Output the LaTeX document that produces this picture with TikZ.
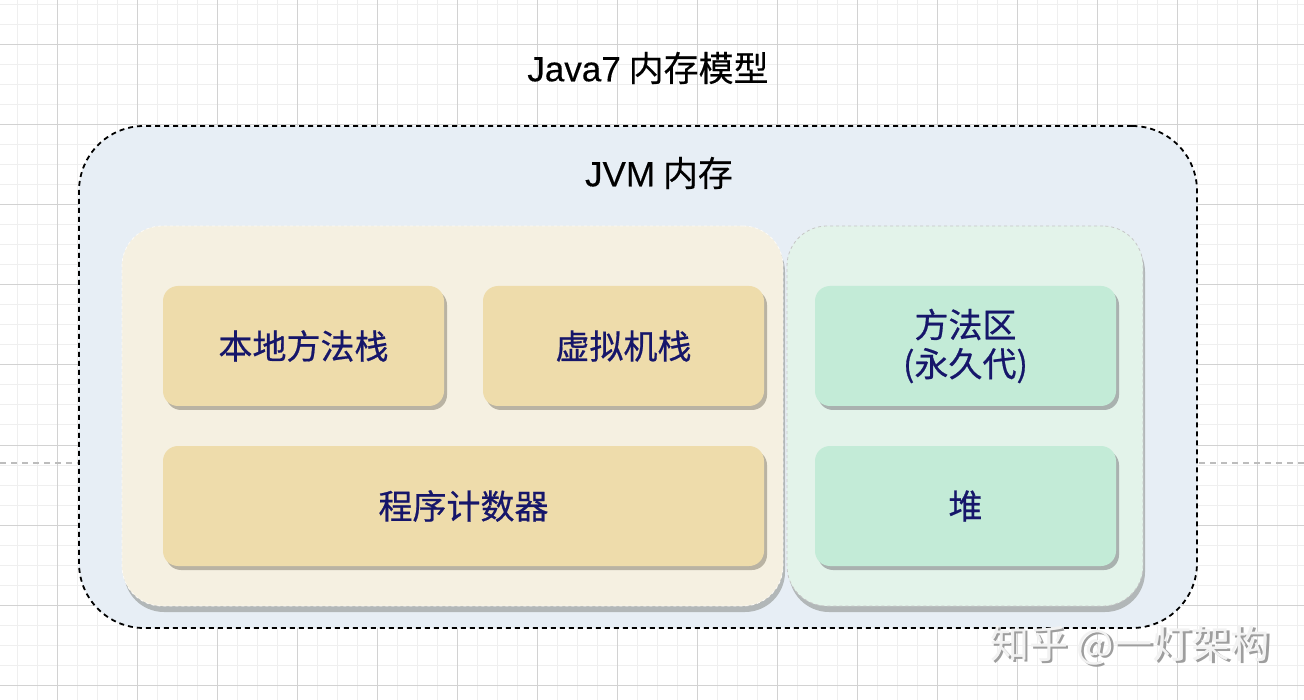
\documentclass[tikz,border=0pt]{standalone}
\usepackage{fontspec}
\setmainfont{Noto Sans CJK SC}
\newfontfamily\boxfont{Noto Sans CJK SC}[FakeBold=0.6]
\newfontfamily\titlefont{Noto Sans CJK SC}[FakeBold=0.3]
\newfontfamily\latinfont{Liberation Sans}[FakeBold=0.3]
\usetikzlibrary{shadows}
\definecolor{gridminor}{HTML}{EFEFEF}
\definecolor{gridmajor}{HTML}{D2D2D2}
\definecolor{outerfill}{HTML}{E7EEF5}
\definecolor{leftfill}{HTML}{F5F0E1}
\definecolor{leftbox}{HTML}{EEDCAB}
\definecolor{rightfill}{HTML}{E3F3EA}
\definecolor{rightbox}{HTML}{C3EBD7}
\definecolor{navy}{HTML}{16166A}
\definecolor{shadowA}{HTML}{B9B3A3}
\definecolor{shadowB}{HTML}{A9B1AF}
\definecolor{shadowC}{HTML}{B2B7B8}
\definecolor{wmfill}{HTML}{F2F2F2}
\definecolor{wmshadow}{HTML}{9E9E9E}
\tikzset{
  box/.style={rectangle, rounded corners=15pt, inner sep=0pt, outer sep=0pt,
    text=navy, align=center, font=\boxfont\fontsize{34}{39}\selectfont},
  lbox/.style={box, fill=leftbox,
    drop shadow={shadow xshift=3pt, shadow yshift=-4pt, fill=shadowA, opacity=1}},
  rbox/.style={box, fill=rightbox,
    drop shadow={shadow xshift=3pt, shadow yshift=-4pt, fill=shadowB, opacity=1}},
  container/.style={rectangle, rounded corners=40pt, inner sep=0pt, outer sep=0pt,
    minimum height=380pt, dashed, line width=0.8pt,
    drop shadow={shadow xshift=2pt, shadow yshift=-6pt, fill=shadowC, opacity=1}},
  titletext/.style={font=\titlefont\fontsize{35}{38}\selectfont, text=black, inner sep=0pt},
}
\begin{document}
\begin{tikzpicture}[x=1pt, y=-1pt]
\useasboundingbox (0,0) rectangle (1304,700);
\fill[white] (0,0) rectangle (1304,700);
% grid
\foreach \gx in {17,37,...,1304} \draw[gridminor, line width=1pt] (\gx,0) -- (\gx,700);
\foreach \gy in {5,25,...,700} \draw[gridminor, line width=1pt] (0,\gy) -- (1304,\gy);
\foreach \gx in {57,137,...,1304} \draw[gridmajor, line width=1pt] (\gx,0) -- (\gx,700);
\foreach \gy in {45,125,...,700} \draw[gridmajor, line width=1pt] (0,\gy) -- (1304,\gy);
% dashed guide line
\draw[gridmajor!90!black, line width=1.2pt, dash pattern=on 6pt off 5pt] (0,463) -- (1304,463);
% title
\node[titletext] (title) at (648,68) {{\latinfont Java7} 内存模型};
% outer container
\node[rectangle, rounded corners=65pt, minimum width=1118pt, minimum height=502pt,
  inner sep=0pt, outer sep=0pt, fill=outerfill, draw=black, line width=1.8pt,
  dash pattern=on 5pt off 4pt] (jvm) at (638,377) {};
\node[titletext] (jvmlabel) at (659,173) {{\latinfont JVM} 内存};
% inner containers
\node[container, minimum width=661pt, fill=leftfill, draw=white!70!leftfill] (left) at (452.5,416) {};
\node[container, minimum width=356pt, fill=rightfill, draw=gray!45] (right) at (965,416) {};
% boxes
\node[lbox, minimum width=281pt, minimum height=120pt] (native) at (303.5,346) {本地方法栈};
\node[lbox, minimum width=281pt, minimum height=120pt] (vmstack) at (623.5,346) {虚拟机栈};
\node[lbox, minimum width=601pt, minimum height=120pt] (pc) at (463.5,506) {程序计数器};
\node[rbox, minimum width=301pt, minimum height=120pt] (method) at (965.5,346) {方法区\\(永久代)};
\node[rbox, minimum width=301pt, minimum height=120pt] (heap) at (965.5,506) {堆};
% watermark
\node[font=\fontsize{39}{40}\selectfont, text=wmshadow, inner sep=0pt] (wmshadow) at (1132.5,647.5) {知乎 @一灯架构};
\node[font=\fontsize{39}{40}\selectfont, text=wmfill, inner sep=0pt] (wm) at (1130,645) {知乎 @一灯架构};
\end{tikzpicture}
\end{document}
